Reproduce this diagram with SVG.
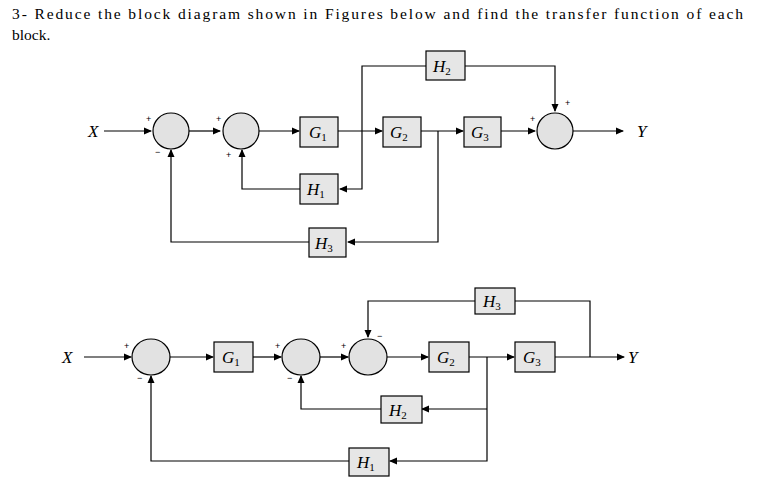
<svg xmlns="http://www.w3.org/2000/svg" width="767" height="491" viewBox="0 0 767 491">
<defs><marker id="a" markerWidth="8" markerHeight="8" refX="7" refY="4" orient="auto" markerUnits="userSpaceOnUse"><path d="M0,0.5 L8,4 L0,7.5 Z" fill="#000"/></marker></defs>
<style>
.t{font-family:"Liberation Serif",serif;font-size:15.5px;fill:#000}
.l{font-family:"Liberation Serif",serif;font-style:italic;font-size:17px;fill:#000}
.s{font-size:11px;font-style:normal}
.p{font-family:"Liberation Sans",sans-serif;font-size:9px;fill:#000}
rect{fill:#e6e6e6;stroke:#000;stroke-width:1.2}
circle,ellipse{fill:#e2e2e2;stroke:#000;stroke-width:1.2}
.c path{fill:none;stroke:#000;stroke-width:1.2}
</style>
<rect x="0" y="0" width="767" height="491" style="fill:#fff;stroke:none"/>
<text class="t" x="12" y="19" textLength="731" lengthAdjust="spacing">3- Reduce the block diagram shown in Figures below and find the transfer function of each</text>
<text class="t" x="12" y="40">block.</text>
<g class="c">
<path d="M104,131 H151" marker-end="url(#a)"/>
<path d="M189,131 H220" marker-end="url(#a)"/>
<path d="M259,131 H299" marker-end="url(#a)"/>
<path d="M338,131 H382" marker-end="url(#a)"/>
<path d="M421,131 H463" marker-end="url(#a)"/>
<path d="M501,131 H535" marker-end="url(#a)"/>
<path d="M573,131 H623" marker-end="url(#a)"/>
<path d="M362,131 V66 H426"/>
<path d="M465,66 H555 V111" marker-end="url(#a)"/>
<path d="M362,131 V189 H340" marker-end="url(#a)"/>
<path d="M300,189 H242 V150" marker-end="url(#a)"/>
<path d="M438,131 V242 H348" marker-end="url(#a)"/>
<path d="M309,242 H171 V150" marker-end="url(#a)"/>
<path d="M84,357 H131" marker-end="url(#a)"/>
<path d="M169,357 H213" marker-end="url(#a)"/>
<path d="M253,357 H281" marker-end="url(#a)"/>
<path d="M320,357 H348" marker-end="url(#a)"/>
<path d="M387,357 H428" marker-end="url(#a)"/>
<path d="M469,357 H514" marker-end="url(#a)"/>
<path d="M555,357 H624" marker-end="url(#a)"/>
<path d="M590,357 V301 H515"/>
<path d="M475,301 H368 V337" marker-end="url(#a)"/>
<path d="M487,357 V461 H390" marker-end="url(#a)"/>
<path d="M487,409 H422" marker-end="url(#a)"/>
<path d="M381,409 H301 V376" marker-end="url(#a)"/>
<path d="M349,461 H151 V376" marker-end="url(#a)"/>
</g>
<g id="top">
<text class="l" x="88" y="137">X</text>
<text class="l" x="637" y="137">Y</text>
<g id="s1"><circle cx="171" cy="131" r="18"/><text class="p" x="146" y="122">+</text><text class="p" x="155" y="155">−</text></g>
<g id="s2"><circle cx="241" cy="131" r="18"/><text class="p" x="216" y="122">+</text><text class="p" x="226" y="158">+</text></g>
<g id="s3"><circle cx="555" cy="131" r="18"/><text class="p" x="530" y="122">+</text><text class="p" x="565" y="106">+</text></g>
<g id="G1"><rect x="300" y="117" width="38" height="30"/><text class="l" x="309" y="138">G<tspan class="s" dy="3">1</tspan></text></g>
<g id="G2"><rect x="383" y="117" width="38" height="30"/><text class="l" x="390" y="138">G<tspan class="s" dy="3">2</tspan></text></g>
<g id="G3"><rect x="464" y="117" width="37" height="30"/><text class="l" x="471" y="138">G<tspan class="s" dy="3">3</tspan></text></g>
<g id="H2"><rect x="426" y="51" width="39" height="29"/><text class="l" x="433" y="72">H<tspan class="s" dy="3">2</tspan></text></g>
<g id="H1"><rect x="300" y="174" width="38" height="30"/><text class="l" x="307" y="195">H<tspan class="s" dy="3">1</tspan></text></g>
<g id="H3"><rect x="309" y="228" width="37" height="29"/><text class="l" x="315" y="249">H<tspan class="s" dy="3">3</tspan></text></g>
</g>
<g id="bottom">
<text class="l" x="62" y="363">X</text>
<text class="l" x="628" y="363">Y</text>
<g id="b1"><ellipse cx="151" cy="357" rx="19" ry="18"/><text class="p" x="124" y="349">+</text><text class="p" x="137" y="381">−</text></g>
<g id="b2"><ellipse cx="301" cy="357" rx="19" ry="18"/><text class="p" x="275" y="349">+</text><text class="p" x="287" y="381">−</text></g>
<g id="b3"><ellipse cx="368" cy="357" rx="19" ry="18"/><text class="p" x="341" y="349">+</text><text class="p" x="377" y="339">−</text></g>
<g id="bG1"><rect x="214" y="342" width="39" height="30"/><text class="l" x="222" y="363">G<tspan class="s" dy="3">1</tspan></text></g>
<g id="bG2"><rect x="429" y="342" width="40" height="30"/><text class="l" x="437" y="363">G<tspan class="s" dy="3">2</tspan></text></g>
<g id="bG3"><rect x="515" y="342" width="40" height="30"/><text class="l" x="523" y="363">G<tspan class="s" dy="3">3</tspan></text></g>
<g id="bH3"><rect x="475" y="288" width="40" height="26"/><text class="l" x="483" y="307">H<tspan class="s" dy="3">3</tspan></text></g>
<g id="bH2"><rect x="381" y="396" width="41" height="27"/><text class="l" x="389" y="416">H<tspan class="s" dy="3">2</tspan></text></g>
<g id="bH1"><rect x="349" y="448" width="40" height="28"/><text class="l" x="357" y="468">H<tspan class="s" dy="3">1</tspan></text></g>
</g>
</svg>
